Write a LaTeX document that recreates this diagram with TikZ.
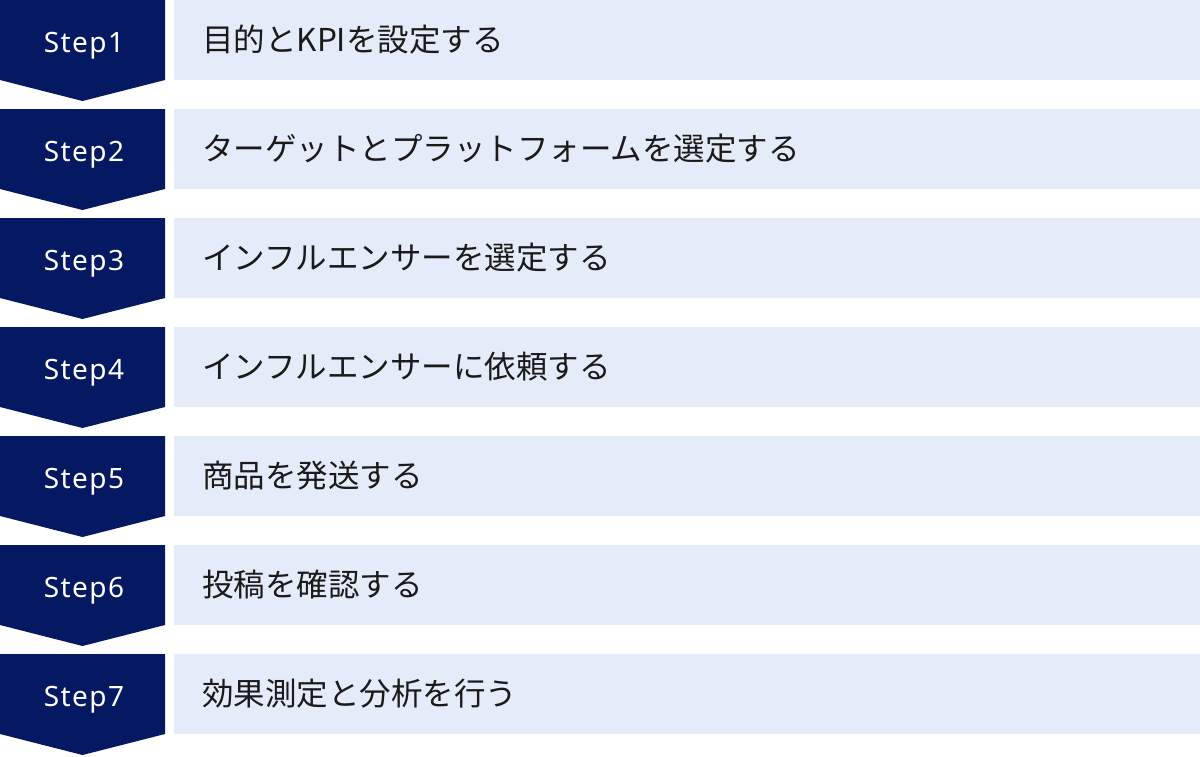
\documentclass[tikz,border=0pt]{standalone}
\usepackage{fontspec}
\usepackage{tikz}
\setmainfont{Noto Sans CJK JP}
\newfontfamily\stepfont[LetterSpace=5]{Noto Sans}
\definecolor{stepnavy}{HTML}{051862}
\definecolor{rowblue}{HTML}{E5ECF9}
\definecolor{rowtext}{HTML}{1A1A1A}

\begin{document}
\begin{tikzpicture}[x=1pt,y=-1pt]
    \useasboundingbox (0,0) rectangle (1200,756);
    \foreach \n/\txt in {1/目的とKPIを設定する,
                         2/ターゲットとプラットフォームを選定する,
                         3/インフルエンサーを選定する,
                         4/インフルエンサーに依頼する,
                         5/商品を発送する,
                         6/投稿を確認する,
                         7/効果測定と分析を行う} {
        \pgfmathsetmacro{\ytop}{(\n-1)*109}
        % Chevron on the left
        \fill[stepnavy] (0,\ytop) -- (165,\ytop) -- (165,\ytop+80)
            -- (82.5,\ytop+101) -- (0,\ytop+80) -- cycle;
        % Step number inside the chevron
        \node[text=white, anchor=base, inner sep=0pt,
              font=\stepfont\fontsize{28}{32}\selectfont]
            (step\n) at (84,\ytop+52) {Step\n};
        % Pale band behind the text
        \node[fill=rowblue, minimum width=1026pt, minimum height=80pt,
              inner sep=0pt, anchor=north west] (band\n) at (174,\ytop) {};
        % Text of the step
        \node[text=rowtext, anchor=west, inner sep=0pt,
              font=\fontsize{31.5}{36}\selectfont]
            (label\n) at (202,\ytop+40) {\txt};
    }
\end{tikzpicture}
\end{document}
